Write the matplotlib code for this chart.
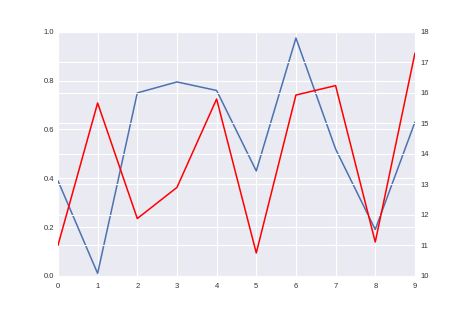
import matplotlib
matplotlib.use('Agg')
import matplotlib.pyplot as plt

# data
x = [0, 1, 2, 3, 4, 5, 6, 7, 8, 9]
blue_vals = [0.39, 0.01, 0.75, 0.795, 0.76, 0.43, 0.975, 0.52, 0.19, 0.63]
red_vals = [11.0, 15.67, 11.88, 12.9, 15.8, 10.75, 15.93, 16.24, 11.11, 17.3]

plt.style.use('seaborn-v0_8-darkgrid')

fig = plt.figure(figsize=(4.6, 3.16), dpi=100)
ax = fig.add_axes([0.126, 0.127, 0.776, 0.772])
ax.plot(x, blue_vals, color='#4C72B0', linewidth=1.1)
ax.set_xlim(0, 9)
ax.set_ylim(0, 1)
ax.set_yticks([0.0, 0.2, 0.4, 0.6, 0.8, 1.0])
ax.tick_params(labelsize=5.5, colors='#333333', pad=3)
ax.tick_params(axis='x', pad=5)

ax2 = ax.twinx()
ax2.plot(x, red_vals, color='red', linewidth=1.1)
ax2.set_ylim(10, 18)
ax2.set_yticks(range(10, 19))
ax2.tick_params(labelsize=5.5, colors='#333333', pad=4)
for spine in ax2.spines.values():
    spine.set_visible(False)

fig.savefig('out.png', dpi=100)
